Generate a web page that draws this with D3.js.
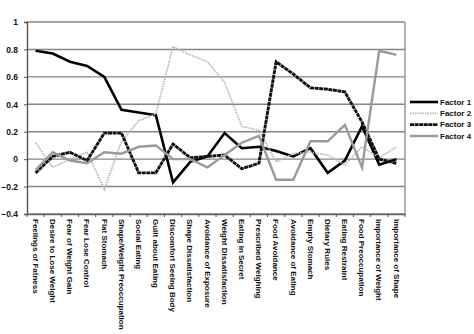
<!DOCTYPE html>
<html>
<head>
<meta charset="utf-8">
<script src="https://d3js.org/d3.v7.min.js"></script>
<style>
  html, body { margin: 0; padding: 0; background: #fff; }
  svg { display: block; }
  text { font-family: "Liberation Sans", Arial, sans-serif; font-weight: bold; fill: #111; }
</style>
</head>
<body>
<svg id="chart" width="474" height="334"></svg>
<script>
const categories = [
  "Feelings of Fatness", "Desire to Lose Weight", "Fear of Weight Gain", "Fear Lose Control",
  "Flat Stomach", "Shape/Weight Preoccupation", "Social Eating", "Guilt about Eating",
  "Discomfort Seeing Body", "Shape Dissatisfaction", "Avoidance of Exposure", "Weight Dissatisfaction",
  "Eating in Secret", "Prescribed Weighing", "Food Avoidance", "Avoidance of Eating",
  "Empty Stomach", "Dietary Rules", "Eating Restraint", "Food Preoccupation",
  "Importance of Weight", "Importance of Shape"
];
const factor1 = [0.79, 0.77, 0.71, 0.68, 0.60, 0.36, 0.34, 0.32, -0.17, -0.02, 0.02, 0.19, 0.08, 0.09, 0.06, 0.02, 0.08, -0.10, -0.01, 0.24, -0.04, 0.00];
const factor2 = [0.12, -0.06, 0.00, 0.05, -0.22, 0.13, 0.28, 0.33, 0.82, 0.76, 0.71, 0.56, 0.24, 0.21, -0.02, 0.04, 0.05, 0.03, -0.04, 0.09, 0.01, 0.09];
const factor3 = [-0.10, 0.02, 0.05, -0.01, 0.19, 0.19, -0.10, -0.10, 0.11, 0.01, 0.02, 0.03, -0.07, -0.03, 0.71, 0.62, 0.52, 0.51, 0.49, 0.27, 0.00, -0.03];
const factor4 = [-0.08, 0.05, -0.01, -0.03, 0.05, 0.04, 0.09, 0.10, 0.00, 0.00, -0.06, 0.03, 0.12, 0.17, -0.15, -0.15, 0.13, 0.13, 0.25, -0.06, 0.79, 0.76];
const seriesNames = ["Factor 1", "Factor 2", "Factor 3", "Factor 4"];
const yTicks = [-0.4, -0.2, 0, 0.2, 0.4, 0.6, 0.8, 1];

const svg = d3.select("#chart");
const L = 27, R = 405, T = 22, B = 214;

const x = d3.scaleBand().domain(categories).range([L, R]).padding(0);
const y = d3.scaleLinear().domain([-0.4, 1]).range([B, T]);
const cx = c => x(c) + x.bandwidth() / 2;

// gridlines
svg.append("g").selectAll("line").data(yTicks).join("line")
  .attr("x1", L).attr("x2", R)
  .attr("y1", d => y(d)).attr("y2", d => y(d))
  .attr("stroke", "#858585").attr("stroke-width", 1.4);

// plot border right
svg.append("line").attr("x1", R).attr("x2", R).attr("y1", T).attr("y2", B)
  .attr("stroke", "#909090").attr("stroke-width", 1.4);

// y axis
const yAxis = d3.axisLeft(y).tickValues(yTicks).tickSize(3).tickPadding(6)
  .tickFormat(d => d === 0 ? "0" : d3.format("")(+d.toFixed(1)));
const gy = svg.append("g").attr("transform", `translate(${L},0)`).call(yAxis);
gy.select(".domain").attr("stroke", "#555").attr("stroke-width", 1.4);
gy.selectAll(".tick line").attr("stroke", "#555");
gy.selectAll(".tick text").style("font-size", "8.5px").attr("fill", "#111");

// x axis
const xAxis = d3.axisBottom(x).tickSize(0).tickPadding(0);
const gx = svg.append("g").attr("transform", `translate(0,${B})`).call(xAxis);
gx.select(".domain").attr("stroke", "#666").attr("stroke-width", 1.4);
gx.selectAll(".tick text")
  .style("font-size", "8px")
  .attr("text-anchor", "start")
  .attr("transform", "rotate(90)")
  .attr("x", 5).attr("y", 0).attr("dy", "0.35em")
  .attr("fill", "#222");
// boundary ticks
const bounds = categories.map(c => x(c)).concat([R]);
svg.append("g").selectAll("line").data(bounds).join("line")
  .attr("x1", d => d).attr("x2", d => d).attr("y1", B).attr("y2", B + 3)
  .attr("stroke", "#555").attr("stroke-width", 1);

// series
const styles = [
  { data: factor1, stroke: "#000", width: 2.6, dash: null },
  { data: factor2, stroke: "#b8b8b8", width: 1.8, dash: "1.5,1" },
  { data: factor3, stroke: "#111", width: 2.9, dash: "4,0.6" },
  { data: factor4, stroke: "#9a9a9a", width: 2.4, dash: null }
];
const line = d3.line().x((d, i) => cx(categories[i])).y(d => y(d));
styles.forEach(s => {
  svg.append("path").datum(s.data)
    .attr("d", line).attr("fill", "none")
    .attr("stroke", s.stroke).attr("stroke-width", s.width)
    .attr("stroke-dasharray", s.dash)
    .attr("stroke-linejoin", "miter");
});

// legend
const leg = svg.append("g");
const legY = d3.scalePoint().domain(seriesNames).range([102, 136]);
seriesNames.forEach((n, i) => {
  const s = styles[i];
  leg.append("line").attr("x1", 410).attr("x2", 438)
    .attr("y1", legY(n)).attr("y2", legY(n))
    .attr("stroke", s.stroke).attr("stroke-width", s.width)
    .attr("stroke-dasharray", s.dash);
  leg.append("text").attr("x", 440).attr("y", legY(n)).attr("dy", "0.35em")
    .style("font-size", "8px").text(n);
});
</script>
</body>
</html>
